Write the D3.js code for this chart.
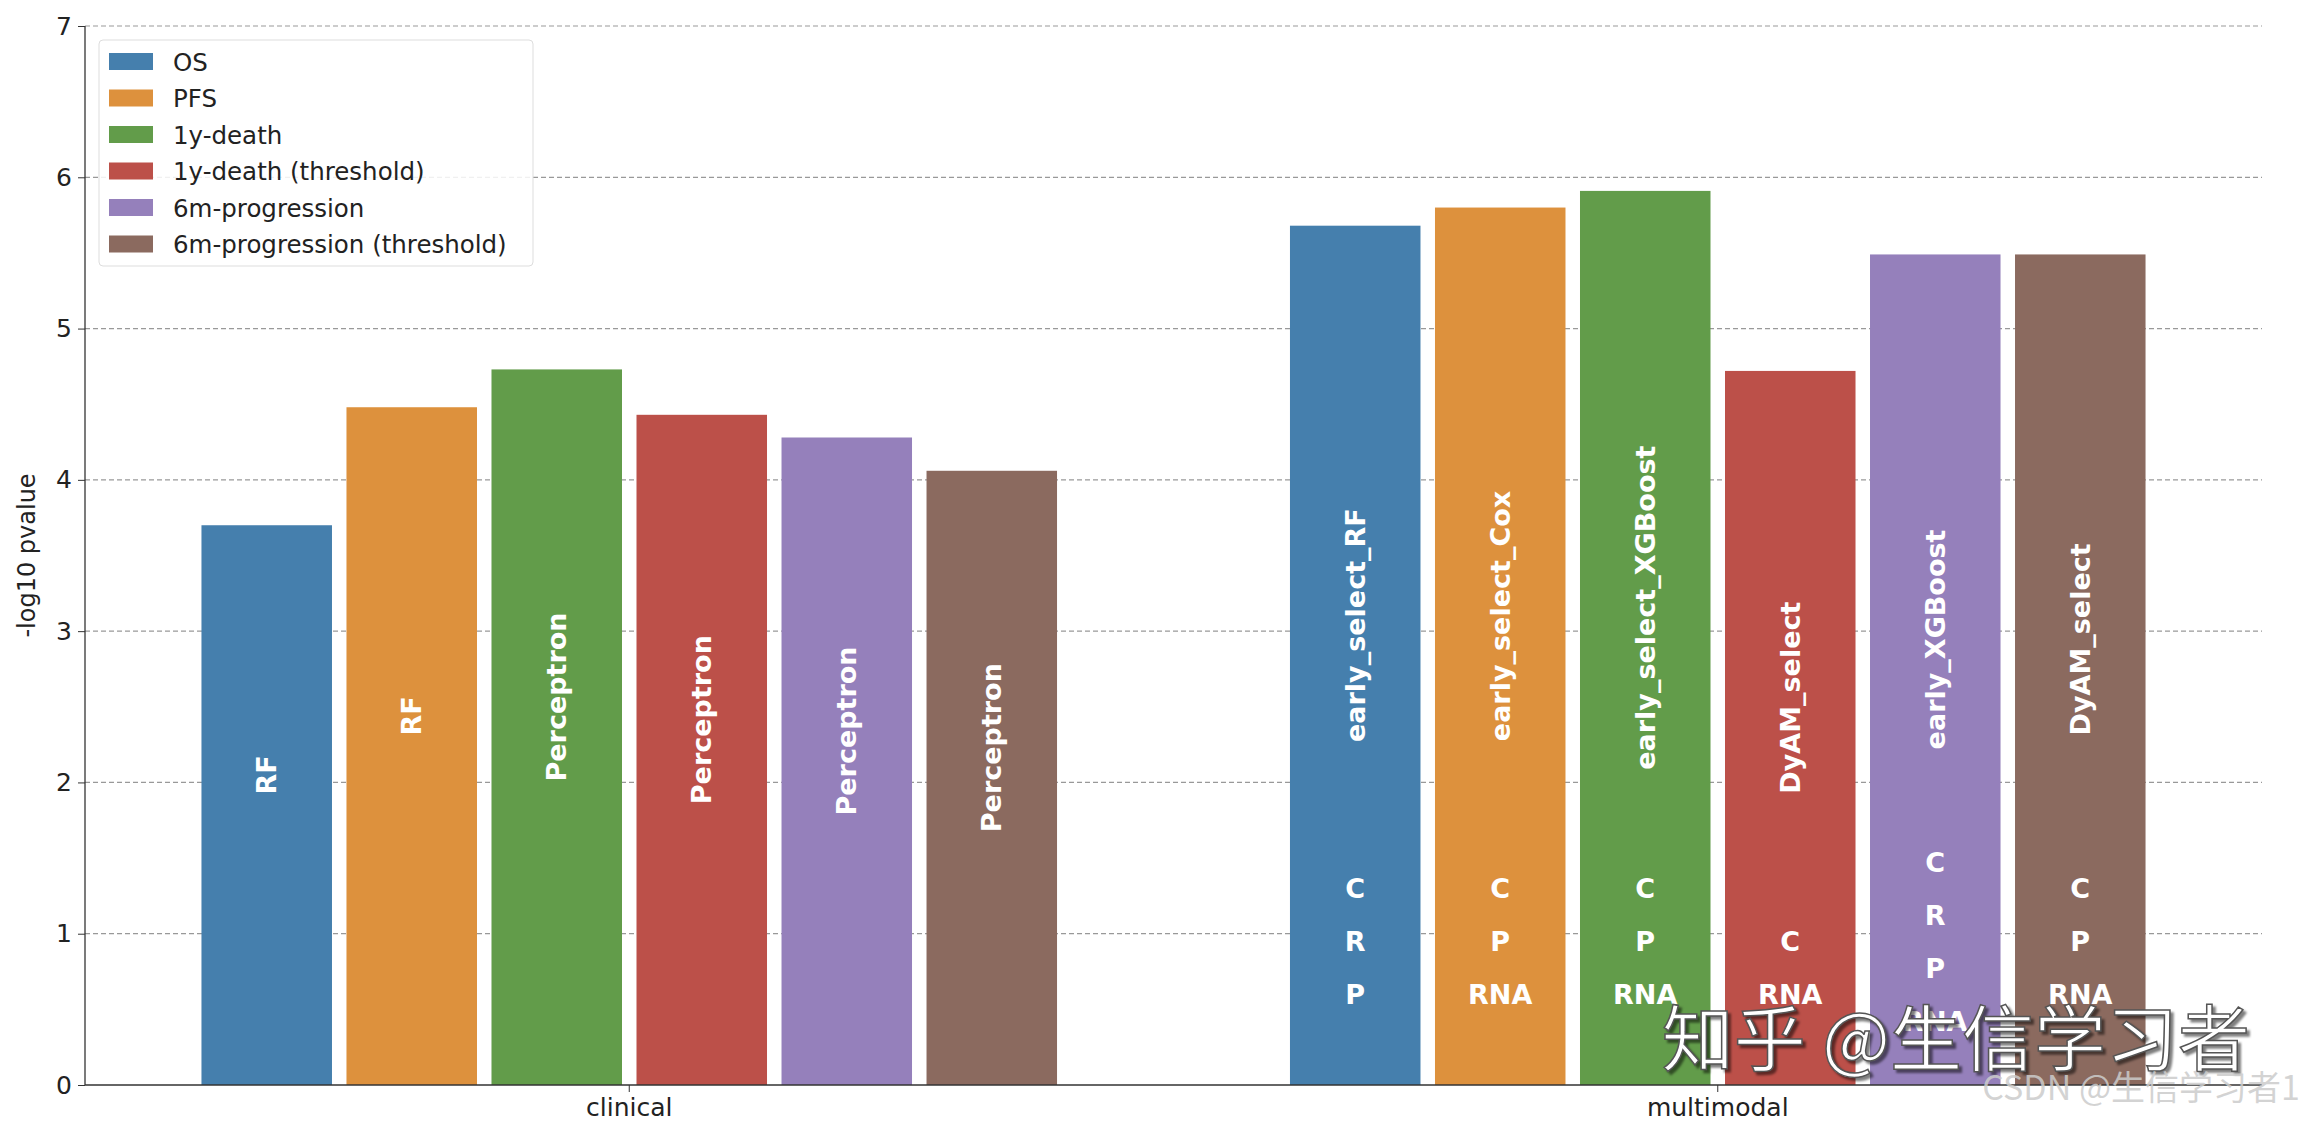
<!DOCTYPE html>
<html><head><meta charset="utf-8">
<script src="https://cdn.jsdelivr.net/npm/d3@7"></script>
<style>body{margin:0;background:#fff;font-family:"DejaVu Sans",sans-serif;}</style>
</head><body><svg id="chart"></svg>
<script>
var groups = ["clinical", "multimodal"];
var series = ["OS", "PFS", "1y-death", "1y-death (threshold)", "6m-progression", "6m-progression (threshold)"];
var colors = ["#457fad", "#dd913d", "#629c4a", "#bc5049", "#9580bb", "#8b6a5f"];
var clinicalValues = [3.70, 4.48, 4.73, 4.43, 4.28, 4.06];
var multimodalValues = [5.68, 5.80, 5.91, 4.72, 5.49, 5.49];
var clinicalModels = ["RF", "RF", "Perceptron", "Perceptron", "Perceptron", "Perceptron"];
var multimodalModels = ["early_select_RF", "early_select_Cox", "early_select_XGBoost", "DyAM_select", "early_XGBoost", "DyAM_select"];
var multimodalInputs = [["C","R","P"], ["C","P","RNA"], ["C","P","RNA"], ["C","RNA"], ["C","R","P","RNA"], ["C","P","RNA"]];
var yTicks = [0, 1, 2, 3, 4, 5, 6, 7];

var W = 2306, H = 1126;
var m = {top: 26, right: 44, bottom: 41, left: 85};
var svg = d3.select("#chart").attr("width", W).attr("height", H);
var g = svg.append("g").attr("transform", "translate(" + m.left + "," + m.top + ")");
var w = W - m.left - m.right, h = H - m.top - m.bottom;

var x = d3.scaleBand().domain(groups).range([0, w]).paddingInner(0.214).paddingOuter(0.107);
var xs = d3.scaleBand().domain(d3.range(series.length)).range([0, x.bandwidth()]).paddingInner(0.1);
var y = d3.scaleLinear().domain([0, 7]).range([h, 0]);

g.selectAll(".grid").data(yTicks.slice(1)).enter().append("line")
  .attr("x1", 0).attr("x2", w).attr("y1", function(d){return y(d);}).attr("y2", function(d){return y(d);})
  .attr("stroke", "#999").attr("stroke-dasharray", "5,3").attr("stroke-width", 1.2);

var data = [];
series.forEach(function(s, i){
  data.push({g: "clinical", i: i, v: clinicalValues[i], label: clinicalModels[i], inputs: []});
  data.push({g: "multimodal", i: i, v: multimodalValues[i], label: multimodalModels[i], inputs: multimodalInputs[i]});
});

var bars = g.selectAll(".bar").data(data).enter().append("g")
  .attr("transform", function(d){return "translate(" + (x(d.g) + xs(d.i)) + ",0)";});
bars.append("rect").attr("y", function(d){return y(d.v);}).attr("width", xs.bandwidth())
  .attr("height", function(d){return h - y(d.v);}).attr("fill", function(d){return colors[d.i];});
bars.append("text")
  .attr("transform", function(d){return "translate(" + xs.bandwidth()/2 + "," + y(d.v/2 + 0.2) + ") rotate(-90)";})
  .attr("text-anchor", "middle").attr("dy", "0.35em").attr("fill", "#fff")
  .attr("font-weight", "bold").attr("font-size", 27).text(function(d){return d.label;});
// input letters stacked, block ending near 0.6 (a 4-line block sits a bit lower)
bars.each(function(d){
  var n = d.inputs.length;
  var base = n > 3 ? 0.42 : 0.6;
  d3.select(this).selectAll(".inp").data(d.inputs).enter().append("text")
    .attr("x", xs.bandwidth()/2)
    .attr("y", function(t, k){return y(base + (n - 1 - k) * 0.35);})
    .attr("dy", "0.35em").attr("text-anchor", "middle").attr("fill", "#fff")
    .attr("font-weight", "bold").attr("font-size", 27).text(function(t){return t;});
});

var ya = g.append("g").call(d3.axisLeft(y).tickValues(yTicks).tickFormat(d3.format("d")).tickSize(7).tickPadding(6));
var xa = g.append("g").attr("transform", "translate(0," + h + ")").call(d3.axisBottom(x).tickSize(7).tickPadding(6));
[ya, xa].forEach(function(a){
  a.selectAll("text").attr("font-size", 25).attr("fill", "#222").attr("font-family", "DejaVu Sans");
  a.select(".domain").attr("stroke", "#333").attr("stroke-width", 1.3);
  a.selectAll(".tick line").attr("stroke", "#333");
});
xa.select(".domain").attr("d", "M0,0H" + w);
ya.select(".domain").attr("d", "M0," + h + "V0");
g.append("text").attr("transform", "translate(-50," + h/2 + ") rotate(-90)").attr("text-anchor", "middle")
  .attr("font-size", 24).attr("fill", "#222").text("-log10 pvalue");

var lg = g.append("g").attr("transform", "translate(14,14)");
lg.append("rect").attr("width", 434).attr("height", 226).attr("rx", 4).attr("fill", "#fff")
  .attr("fill-opacity", 0.85).attr("stroke", "#ddd");
series.forEach(function(s, i){
  var r = lg.append("g").attr("transform", "translate(10," + (13 + i * 36.5) + ")");
  r.append("rect").attr("width", 44).attr("height", 17).attr("fill", colors[i]);
  r.append("text").attr("x", 64).attr("y", 9).attr("dy", "0.35em").attr("font-size", 24.5).attr("fill", "#222").text(s);
});

svg.append("text").attr("x", 2250).attr("y", 1065).attr("text-anchor", "end").attr("font-size", 72)
  .attr("font-family", "Noto Sans CJK SC").attr("fill", "#fff").attr("stroke", "#555").attr("stroke-width", 1.5)
  .style("filter", "drop-shadow(3px 3px 1px rgba(0,0,0,0.5))").text("知乎 @生信学习者");
svg.append("text").attr("x", 2300).attr("y", 1100).attr("text-anchor", "end").attr("font-size", 34)
  .attr("font-family", "Noto Sans CJK SC").attr("fill", "#ccc").attr("fill-opacity", 0.85).text("CSDN @生信学习者1");
</script></body></html>
